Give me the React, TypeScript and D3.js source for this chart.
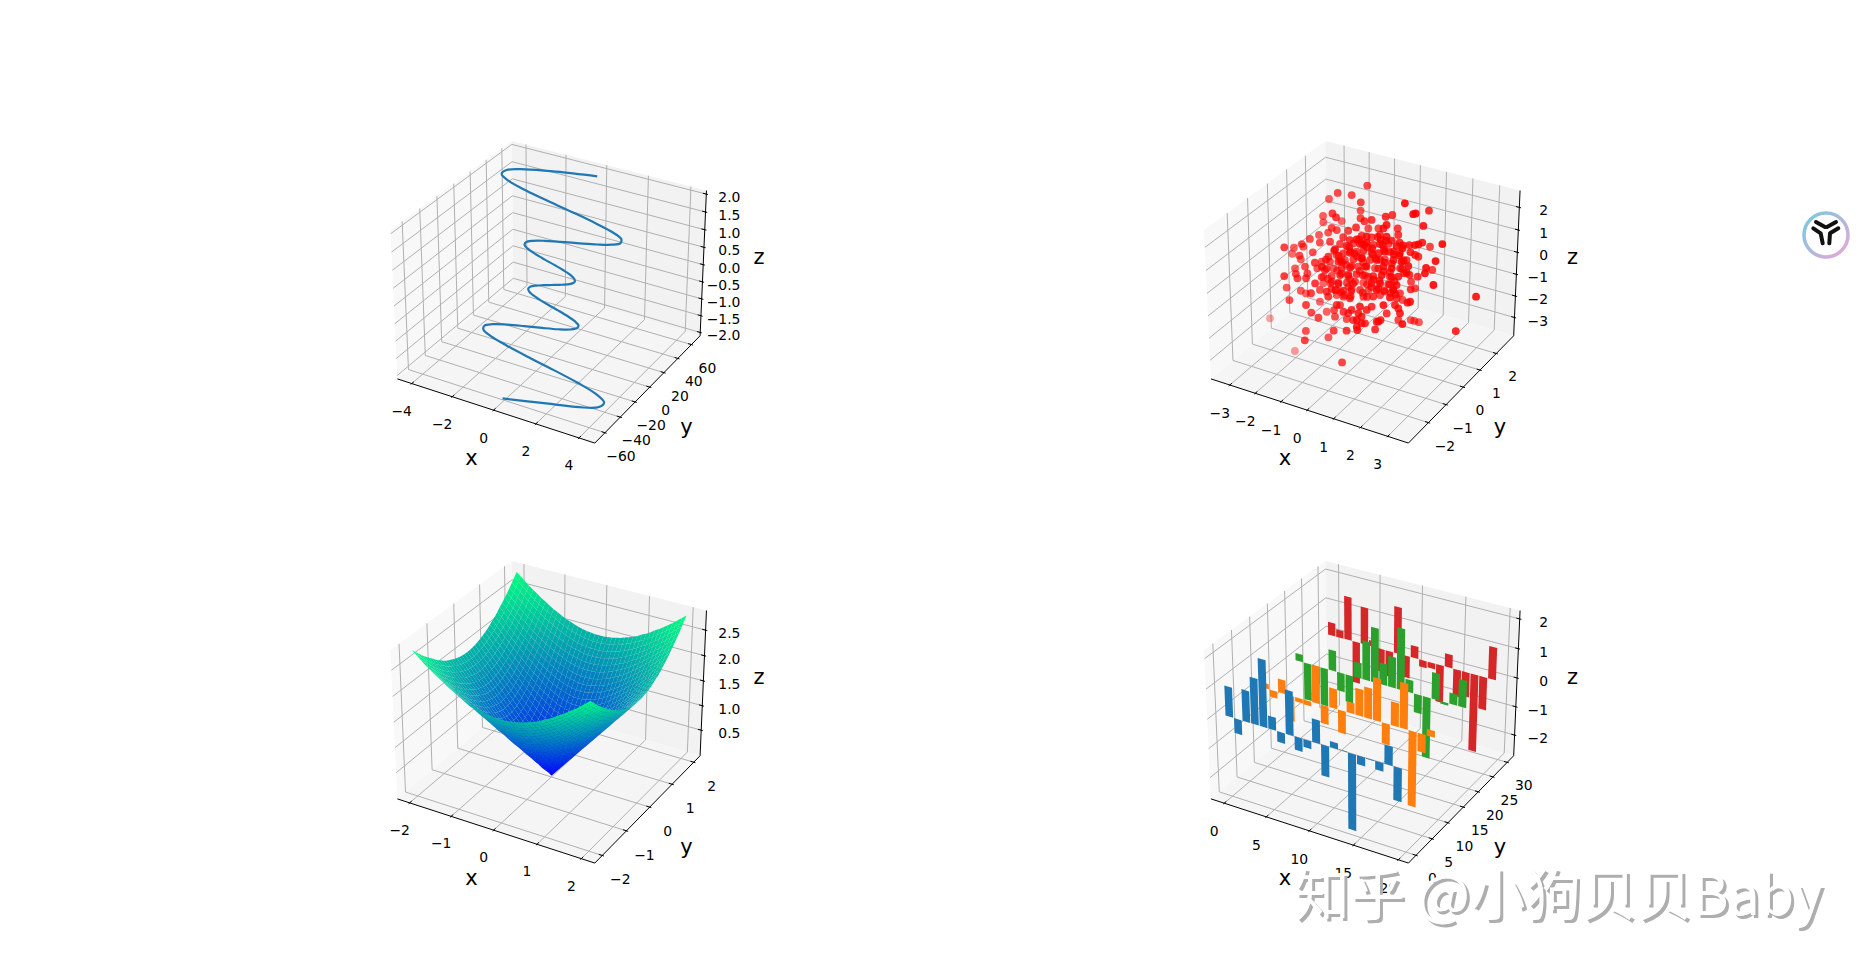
import React, { useRef, useEffect } from "react";
import * as d3 from "d3";

// helix
const lineX = [0,1.82,3.19,3.96,4.06,3.56,2.57,1.32,0,-1.17,-2.04,-2.52,-2.56,-2.23,-1.6,-0.82,0,0.72,1.25,1.53,1.56,1.36,0.98,0.5,0,-0.46,-0.81,-1.01,-1.06,-0.96,-0.72,-0.38,0,0.38,0.72,0.96,1.06,1.01,0.81,0.46,0,-0.5,-0.98,-1.36,-1.56,-1.53,-1.25,-0.72,0,0.82,1.6,2.23,2.56,2.52,2.04,1.17,0,-1.32,-2.57,-3.56,-4.06,-3.96,-3.19,-1.82,0];
const lineY = [-62,-55.3,-50.8,-46.6,-42.7,-39,-35.5,-32.3,-29.3,-26.4,-23.9,-21.4,-19.2,-17.2,-15.3,-13.6,-12,-10.6,-9.3,-8.1,-7,-6.1,-5.2,-4.4,-3.8,-3.1,-2.6,-2.1,-1.6,-1.2,-0.8,-0.4,0,0.4,0.8,1.2,1.6,2.1,2.6,3.1,3.8,4.4,5.2,6.1,7,8.1,9.3,10.6,12,13.6,15.3,17.2,19.2,21.4,23.9,26.4,29.3,32.3,35.5,39,42.7,46.6,50.8,55.3,60];
const lineZ = d3.range(65).map((k) => -2 + k / 16);

// scatter
const scatterX = [-0.89,-1.75,-1.21,-2.53,-0.72,1.67,1.77,-1.22,1.91,2.00,-2.48,-1.38,-1.17,-2.25,-2.62,-0.80,-0.37,-0.10,0.50,0.41,2.09,0.94,0.69,0.55,-1.99,-1.63,-1.58,-0.92,-0.48,-0.78,
  -0.32,-2.27,-2.43,0.84,-2.52,-3.14,-2.67,-2.69,-1.88,-1.41,-2.09,-3.52,-2.24,-2.95,1.52,1.99,2.05,1.93,1.45,3.04,1.74,1.60,3.00,2.60,1.87,2.69,1.78,3.13,4.23,3.66,
  -2.16,-2.88,-2.24,-2.03,-2.18,-1.94,-1.92,-2.85,-2.21,-2.44,-2.61,-1.36,-2.13,-1.41,-1.51,-1.16,-1.79,-0.84,-5.38,-1.66,-1.18,-4.03,-0.04,-1.22,-0.50,0.14,0.69,0.56,1.08,1.35,
  1.07,1.14,2.29,0.89,1.22,1.27,1.67,2.30,2.01,1.66,1.21,1.30,0.83,1.17,2.00,1.61,1.59,0.74,0.71,0.76,0.59,0.11,-0.22,-0.19,-0.59,-0.88,0.19,0.81,0.64,0.67,
  0.72,-0.75,-0.57,0.79,-0.34,0.41,-0.30,0.25,-0.97,-0.43,0.22,1.08,0.93,-0.49,-1.17,-0.34,-1.01,-0.19,0.62,-0.03,0.70,0.20,1.45,1.87,-1.89,-1.04,-1.67,-0.83,0,-0.67,
  0.08,-0.44,0.78,1.43,0.86,1.64,1.03,-1.49,-0.93,-1.57,-0.66,-1.34,-0.44,0.43,-0.16,0.58,0.07,1.34,2.04,2.02,-2.07,-1.18,-1.80,-0.90,0,-0.61,0.20,-0.31,0.97,1.68,
  1.12,1.90,-1.12,-2.20,-1.29,-0.38,-1.00,-0.18,-0.70,0.59,1.32,0.74,1.59,-2.21,-1.33,-0.45,-1.06,-0.24,-0.76,0.53,1.26,0.68,1.53,-1.53,-0.75,-1.31,-0.41,-0.94,-0.12,-0.36,
  1.20,0.69,1.55,1.06,-0.77,-1.46,-0.69,0.06,-0.20,0.73,0.37,1.76,1.14,
  -1.11,-0.67,-0.42,-0.16,0.09,0.34,0.59,0.85,1.16,1.42,-1.43,-1.08,-0.80,-0.54,-0.29,-0.04,0.22,0.53,0.78,1.08,1.35,1.63,
  -1.33,-1.03,-0.73,-0.44,-0.14,0.15,0.44,0.75,1.08,1.38,-1.53,-1.22,-0.90,-0.57,-0.27,0.06,0.37,0.70,1.00,1.33,1.61,
  -1.58,-1.28,-0.95,-0.65,-0.32,-0.01,0.32,0.62,0.95,1.25,1.54,-1.30,-1.03,-0.70,-0.39,-0.06,0.24,0.57,0.87,1.20,
  -1.08,-0.80,-0.48,-0.16,0.22,0.59,0.97,1.23,-0.29,0.03,0.34,0.59,0.85];
const scatterY = [1.4,1,1,1.6,0.8,-0.3,0.9,1.5,-0.2,-0.2,1.2,0.2,0.1,1.9,1.4,0.9,0.5,0.5,0.4,0.9,0.1,-0.2,0,1,0.8,0.5,0.7,0.4,0.2,1.3,
  1.2,0.2,0.9,0.6,-0.8,0.5,0.3,0.4,0.2,0.1,0.1,0.9,-0.4,0.6,0.2,-0.2,-0.1,0.3,1.5,-0.3,0.2,0.6,-0.6,-0.5,1,-0.7,0.3,-0.9,-0.2,-0.4,
  -1.3,0.2,-0.6,-0.8,-0.2,-0.4,-0.5,-0.3,-1,-0.1,0.4,-1,0.5,-1.2,-0.8,-0.9,0.4,-0.5,2,-0.9,-1.6,1.6,-1.2,-0.3,-1,-1.2,-1.4,-0.8,-1,-1.1,
  -0.9,0.2,-1.3,1.3,1,1.2,-0.6,-0.9,-0.6,0.1,0.8,0.9,0.9,-0.5,-1,-0.7,-1.3,-1.5,-1.2,-1,-1.2,-0.8,-0.6,-0.9,-0.7,-0.4,-1,-1.6,-1.1,-0.6,
  -1.3,-0.3,-0.2,-0.4,0.3,-0.5,0.8,-0.8,0.2,-0.2,0.5,-0.4,0.1,-0.9,0.3,-0.5,0.8,0,-0.8,0.5,-0.2,1,-0.4,-0.7,0.3,-0.5,0.8,0,-0.8,0.5,
  -0.2,1,-0.4,-1,0.3,-0.5,0.8,-0.6,-1,0.3,-0.5,0.8,0,-0.8,0.5,-0.2,1,-0.4,-1,-0.6,0.3,-0.5,0.8,0,-0.8,0.5,-0.2,1,-0.4,-1,
  0.3,-0.5,-1.1,0.8,0,-0.8,0.5,-0.2,1,-0.4,-1,0.3,-0.5,0.8,0,-0.8,0.5,-0.2,1,-0.4,-1,0.3,-0.5,-0.3,-1,0.2,-0.6,0.6,-0.1,0.7,
  -1.1,0.1,-0.7,0.4,-0.9,0.5,-0.2,-0.9,0.2,-0.6,0.3,-1.2,0.1,
  -0.1,0.1,-0.2,0.2,0,-0.1,0.1,-0.2,0.2,0,-0.1,0.1,-0.2,0.2,0,-0.1,0.1,-0.2,0.2,0,-0.1,0.1,
  -0.2,0.2,0,-0.1,0.1,-0.2,0.2,0,-0.1,0.1,-0.2,0.2,0,-0.1,0.1,-0.2,0.2,0,-0.1,0.1,-0.2,
  0.2,0,-0.1,0.1,-0.2,0.2,0,-0.1,0.1,-0.2,0.2,0,-0.1,0.1,-0.2,0.2,0,-0.1,0.1,-0.2,
  0.2,0,-0.1,0.1,-0.2,0.2,0,-0.1,0.1,-0.2,0.2,0,-0.1];
const scatterZ = [2.63,2.30,2.37,1.41,2.33,3.73,2.67,1.36,3.28,3.34,0.92,2.03,1.99,0.30,0.46,1.54,1.81,1.95,2.34,2.06,2.64,2.52,2.16,1.45,0.59,1.12,0.90,1.28,1.70,0.83,
  1.04,0.62,0.28,1.52,0.84,-0.26,0.19,0,0.58,0.84,0.14,-0.94,0.29,-0.80,1.57,1.99,1.97,1.74,0.59,2.44,1.21,0.81,1.91,1.42,0.04,1.35,0.20,1.14,0.51,-1.05,
  0.03,-0.91,-0.39,-0.38,-0.32,-0.41,-0.55,-1.43,-1.28,-1.58,-2.12,-0.68,-2.41,-1.08,-1.75,-1.79,-2.69,-1.62,-5.44,-2.57,-2.30,-6.28,-3.20,-3.16,-2.07,-1.69,-1.32,-1.51,-1.45,-0.86,
  -1.18,-1.89,-0.56,-2.80,-2.50,-2.69,-0.60,0.13,-0.23,-0.26,-0.57,-0.91,-1.60,-1.07,-0.41,-0.40,0.03,-0.78,-0.86,-0.69,-0.76,-1.52,-1.48,-1.18,-1.16,-2.01,-0.89,-0.98,-1.26,-0.87,
  -0.34,-1.51,-2.16,-1.65,1.30,2.05,0.92,2.08,1.11,1.43,1.39,2.19,1.64,1.48,0.68,1.40,0.42,1.20,2.06,0.87,1.62,0.65,1.91,2.15,-0.35,0.70,-0.32,0.58,1.42,0.36,
  1.13,0.05,1.38,2.07,1.00,1.73,0.34,0.36,0.64,-0.24,0.61,-0.44,0.44,1.32,0.16,0.88,-0.08,1.27,1.84,1.37,-0.71,0.07,-0.97,-0.11,0.78,-0.29,0.47,-0.61,0.86,1.44,
  0.35,0.98,-0.09,-1.49,-0.59,0.32,-0.84,0.01,-1.05,0.32,1.03,-0.15,0.70,-1.80,-0.93,-0.10,-1.17,-0.35,-1.42,-0.02,0.65,-0.50,0.31,-1.09,-0.40,-1.37,-0.52,-1.50,-0.75,-1.44,
  0.41,-0.69,0.21,-0.86,-0.70,-1.87,-1.18,-0.49,-1.30,-0.40,-1.10,0.35,-0.84,
  0.67,0.84,0.94,1.04,1.14,1.24,1.34,1.44,1.56,1.66,0.17,0.31,0.42,0.52,0.61,0.71,0.81,0.93,1.03,1.15,1.26,1.36,
  -0.13,-0.01,0.11,0.22,0.34,0.45,0.57,0.69,0.82,0.93,-0.58,-0.46,-0.34,-0.21,-0.09,0.04,0.16,0.29,0.41,0.53,0.64,
  -0.95,-0.83,-0.70,-0.59,-0.46,-0.34,-0.21,-0.09,0.04,0.16,0.27,-1.18,-1.07,-0.94,-0.82,-0.69,-0.57,-0.44,-0.32,-0.20,
  -1.39,-1.28,-1.16,-1.03,-0.88,-0.74,-0.59,-0.49,1.30,1.42,1.54,1.64,1.74];

// cone, one quadrant at 0.1 steps
const coneAxis = d3.range(-20, 21).map((v) => v / 10);
const coneQuadrant = [
  [0,.1,.2,.3,.4,.5,.6,.7,.8,.9,1,1.1,1.2,1.3,1.4,1.5,1.6,1.7,1.8,1.9,2],
  [.1,.14,.22,.32,.41,.51,.61,.71,.81,.91,1,1.1,1.2,1.3,1.4,1.5,1.6,1.7,1.8,1.9,2],
  [.2,.22,.28,.36,.45,.54,.63,.73,.82,.92,1.02,1.12,1.22,1.32,1.41,1.51,1.61,1.71,1.81,1.91,2.01],
  [.3,.32,.36,.42,.5,.58,.67,.76,.85,.95,1.04,1.14,1.24,1.34,1.43,1.53,1.63,1.73,1.82,1.92,2.02],
  [.4,.41,.45,.5,.57,.64,.72,.81,.89,.98,1.08,1.17,1.26,1.36,1.46,1.55,1.65,1.75,1.84,1.94,2.04],
  [.5,.51,.54,.58,.64,.71,.78,.86,.94,1.03,1.12,1.21,1.3,1.39,1.49,1.58,1.68,1.77,1.87,1.96,2.06],
  [.6,.61,.63,.67,.72,.78,.85,.92,1,1.08,1.17,1.25,1.34,1.43,1.52,1.62,1.71,1.8,1.9,1.99,2.09],
  [.7,.71,.73,.76,.81,.86,.92,.99,1.06,1.14,1.22,1.3,1.39,1.48,1.57,1.66,1.75,1.84,1.93,2.03,2.12],
  [.8,.81,.82,.85,.89,.94,1,1.06,1.13,1.2,1.28,1.36,1.44,1.53,1.61,1.7,1.79,1.88,1.97,2.06,2.15],
  [.9,.91,.92,.95,.98,1.03,1.08,1.14,1.2,1.27,1.35,1.42,1.5,1.58,1.66,1.75,1.84,1.92,2.01,2.1,2.19],
  [1,1,1.02,1.04,1.08,1.12,1.17,1.22,1.28,1.35,1.41,1.49,1.56,1.64,1.72,1.8,1.89,1.97,2.06,2.15,2.24],
  [1.1,1.1,1.12,1.14,1.17,1.21,1.25,1.3,1.36,1.42,1.49,1.56,1.63,1.7,1.78,1.86,1.94,2.02,2.11,2.2,2.28],
  [1.2,1.2,1.22,1.24,1.26,1.3,1.34,1.39,1.44,1.5,1.56,1.63,1.7,1.77,1.84,1.92,2,2.08,2.16,2.25,2.33],
  [1.3,1.3,1.32,1.34,1.36,1.39,1.43,1.48,1.53,1.58,1.64,1.7,1.77,1.84,1.91,1.98,2.06,2.14,2.22,2.3,2.39],
  [1.4,1.4,1.41,1.43,1.46,1.49,1.52,1.57,1.61,1.66,1.72,1.78,1.84,1.91,1.98,2.05,2.13,2.21,2.28,2.36,2.44],
  [1.5,1.5,1.51,1.53,1.55,1.58,1.62,1.66,1.7,1.75,1.8,1.86,1.92,1.98,2.05,2.12,2.19,2.27,2.34,2.42,2.5],
  [1.6,1.6,1.61,1.63,1.65,1.68,1.71,1.75,1.79,1.84,1.89,1.94,2,2.06,2.13,2.19,2.26,2.33,2.41,2.48,2.56],
  [1.7,1.7,1.71,1.73,1.75,1.77,1.8,1.84,1.88,1.92,1.97,2.02,2.08,2.14,2.2,2.27,2.33,2.4,2.48,2.55,2.62],
  [1.8,1.8,1.81,1.82,1.84,1.87,1.9,1.93,1.97,2.01,2.06,2.11,2.16,2.22,2.28,2.34,2.41,2.48,2.55,2.62,2.69],
  [1.9,1.9,1.91,1.92,1.94,1.96,1.99,2.03,2.06,2.1,2.15,2.2,2.25,2.3,2.36,2.42,2.48,2.55,2.62,2.69,2.76],
  [2,2,2.01,2.02,2.04,2.06,2.09,2.12,2.15,2.19,2.24,2.28,2.33,2.39,2.44,2.5,2.56,2.62,2.69,2.76,2.83],
];

// bars, one list per y plane
const barPlanes = [30, 20, 10, 0];
const barColors = ["#d62728", "#2ca02c", "#ff7f0e", "#1f77b4"];
const barIndex = d3.range(20);
const barsRed = [0.45,0.26,1.5,-1.45,1.28,0.2,-0.8,-0.9,1.6,-0.76,0.42,-0.24,-0.2,-1.3,0.45,-0.93,-0.85,-2.7,-1.13,1.1];
const barsGreen = [0.25,-1.28,-0.6,-1.3,0.7,-0.63,-0.94,0.52,1.32,1.85,0.73,1.04,2.07,0.42,-0.63,-2.09,0.9,-0.08,0.37,0.92];
const barsOrange = [0.17,-0.24,0.46,-0.86,-0.15,-0.16,1.26,-0.62,0.66,-0.77,0.36,0.9,1.02,1.42,-0.7,0.79,1.51,-2.56,-0.61,0.22];
const barsBlue = [1,-0.5,1.05,1.54,2.23,0.43,-0.35,1.46,-0.44,-0.26,0.77,-1.03,0.2,0.02,-2.57,-0.29,-0.03,-0.28,0.62,-1.11];

const ELEV = (30 * Math.PI) / 180;
const AZIM = (-60 * Math.PI) / 180;
const DIST = 10;
const SCALE = 1980;
const ASPECT = [1.1429, 1.1429, 0.8571];
const W = [Math.cos(ELEV) * Math.cos(AZIM), Math.cos(ELEV) * Math.sin(AZIM), Math.sin(ELEV)];
const U = [-Math.sin(AZIM), Math.cos(AZIM), 0];
const V = [W[1] * U[2] - W[2] * U[1], W[2] * U[0] - W[0] * U[2], W[0] * U[1] - W[1] * U[0]];
const dot = (a: number[], b: number[]) => a[0] * b[0] + a[1] * b[1] + a[2] * b[2];

function makeAxes(g: any, o: any) {
  const sx = d3.scaleLinear().domain(o.xDomain).range([0, 1]);
  const sy = d3.scaleLinear().domain(o.yDomain).range([0, 1]);
  const sz = d3.scaleLinear().domain(o.zDomain).range([0, 1]);
  // fractions of the box to pixels, third value is distance from the eye
  const cube = (fx: number, fy: number, fz: number) => {
    const p = [(fx - 0.5) * ASPECT[0], (fy - 0.5) * ASPECT[1], (fz - 0.5) * ASPECT[2]];
    const d = DIST - dot(W, p);
    return [o.cx + (SCALE * dot(U, p)) / d, o.cy - (SCALE * dot(V, p)) / d, d];
  };
  const proj = (x: number, y: number, z: number) => cube(sx(x), sy(y), sz(z));
  const path = d3.line();
  const poly = (pts: number[][]) => path(pts.map((p) => [p[0], p[1]] as [number, number])) + "Z";

  const panes = [
    { c: "#f8f8f8", pts: [[0, 0, 0], [0, 1, 0], [0, 1, 1], [0, 0, 1]] },
    { c: "#f2f2f2", pts: [[0, 1, 0], [1, 1, 0], [1, 1, 1], [0, 1, 1]] },
    { c: "#f5f5f5", pts: [[0, 0, 0], [1, 0, 0], [1, 1, 0], [0, 1, 0]] },
  ];
  panes.forEach((pn) => {
    g.append("path").attr("d", poly(pn.pts.map((p) => cube(p[0], p[1], p[2])))).attr("fill", pn.c);
  });

  const grid = (pts: number[][]) =>
    g.append("path")
      .attr("d", path(pts.map((p) => { const q = cube(p[0], p[1], p[2]); return [q[0], q[1]] as [number, number]; })))
      .attr("fill", "none").attr("stroke", "#b0b0b0").attr("stroke-width", 1);
  o.xTicks.forEach((t: number) => { const f = sx(t); grid([[f, 0, 0], [f, 1, 0], [f, 1, 1]]); });
  o.yTicks.forEach((t: number) => { const f = sy(t); grid([[1, f, 0], [0, f, 0], [0, f, 1]]); });
  o.zTicks.forEach((t: number) => { const f = sz(t); grid([[0, 0, f], [0, 1, f], [1, 1, f]]); });

  const black = (a: number[], b: number[], w = 1) => {
    const p = cube(a[0], a[1], a[2]);
    const q = cube(b[0], b[1], b[2]);
    g.append("line").attr("x1", p[0]).attr("y1", p[1]).attr("x2", q[0]).attr("y2", q[1])
      .attr("stroke", "black").attr("stroke-width", w);
  };
  black([0, 0, 0], [1, 0, 0]);
  black([1, 0, 0], [1, 1, 0]);
  black([1, 1, 0], [1, 1, 1]);

  const text = (s: string, x: number, y: number, size: number, anchor = "middle") =>
    g.append("text").attr("x", x).attr("y", y).attr("font-size", size).attr("text-anchor", anchor)
      .attr("dominant-baseline", "central").attr("font-family", "DejaVu Sans").attr("fill", "black").text(s);

  o.xTicks.forEach((t: number) => {
    const f = sx(t);
    black([f, 0.0167, 0], [f, -0.0083, 0]);
    const p = cube(f, 0, 0);
    text(o.xFormat(t), p[0] + o.xOff[0], p[1] + o.xOff[1], 13.9);
  });
  o.yTicks.forEach((t: number) => {
    const f = sy(t);
    black([1 - 0.0167, f, 0], [1 + 0.0083, f, 0]);
    const p = cube(1, f, 0);
    text(o.yFormat(t), p[0] + o.yOff[0], p[1] + o.yOff[1], 13.9);
  });
  o.zTicks.forEach((t: number) => {
    const f = sz(t);
    black([1 - 0.0167, 1, f], [1 + 0.0083, 1, f]);
    const p = cube(1, 1, f);
    text(o.zFormat(t), o.cx + o.zRight, p[1] + 3, 13.9, "end");
  });
  text("x", o.cx - 80, o.cy + 173, 21);
  text("y", o.cx + 135, o.cy + 142, 21);
  text("z", o.cx + 207.6, o.cy - 28, 21);

  o.draw(g.append("g"), proj, poly);
}

export default function App() {
  const svgRef = useRef(null);

  useEffect(() => {
    const svg = d3.select(svgRef.current);
    svg.selectAll("*").remove();
    const num = d3.format("d");
    const one = d3.format(".1f");

    makeAxes(svg.append("g"), {
      cx: 551.4, cy: 285,
      xDomain: [-4.72, 4.72], yDomain: [-73, 73], zDomain: [-2.1, 2.1],
      xTicks: [-4, -2, 0, 2, 4], yTicks: [-60, -40, -20, 0, 20, 40, 60], zTicks: d3.range(-2, 2.5, 0.5),
      xFormat: num, yFormat: num, zFormat: one,
      xOff: [-10, 27.5], yOff: [16, 23], zRight: 189,
      draw: (g: any, proj: any) => {
        const pts = lineX.map((x, i) => proj(x, lineY[i], lineZ[i]) as [number, number]);
        g.append("path").attr("d", d3.line().curve(d3.curveCatmullRom)(pts))
          .attr("fill", "none").attr("stroke", "#1f77b4").attr("stroke-width", 2.2);
      },
    });

    makeAxes(svg.append("g"), {
      cx: 1365, cy: 285,
      xDomain: [-3.75, 3.75], yDomain: [-3.1, 3.1], zDomain: [-3.86, 2.74],
      xTicks: [-3, -2, -1, 0, 1, 2, 3], yTicks: [-2, -1, 0, 1, 2], zTicks: [-3, -2, -1, 0, 1, 2],
      xFormat: num, yFormat: num, zFormat: num,
      xOff: [-10, 28], yOff: [16.5, 23], zRight: 183,
      draw: (g: any, proj: any) => {
        const pts = scatterX.map((x, i) => proj(x, scatterY[i], scatterZ[i]));
        pts.sort((a, b) => b[2] - a[2]);
        const alpha = d3.scaleLinear().domain(d3.extent(pts, (p: number[]) => p[2]) as [number, number]).range([0.9, 0.35]);
        g.selectAll("circle").data(pts).join("circle")
          .attr("cx", (d: number[]) => d[0]).attr("cy", (d: number[]) => d[1]).attr("r", 3.9)
          .attr("fill", "red").attr("fill-opacity", (d: number[]) => alpha(d[2]));
      },
    });

    makeAxes(svg.append("g"), {
      cx: 551.4, cy: 705,
      xDomain: [-2.3, 2.3], yDomain: [-2.3, 2.3], zDomain: [-0.03, 2.88],
      xTicks: [-2, -1, 0, 1, 2], yTicks: [-2, -1, 0, 1, 2], zTicks: [0.5, 1, 1.5, 2, 2.5],
      xFormat: num, yFormat: num, zFormat: one,
      xOff: [-10, 27], yOff: [18, 24], zRight: 189,
      draw: (g: any, proj: any, poly: any) => {
        const n = coneAxis.length - 1;
        const height = (i: number, j: number) => coneQuadrant[Math.abs(j - 20)][Math.abs(i - 20)];
        const color = d3.scaleLinear<string>().domain([0, 2.83]).range(["#0000ff", "#00ff80"]);
        const cells: any[] = [];
        d3.range(n).forEach((i) => d3.range(n).forEach((j) => {
          const corners = [[i, j], [i + 1, j], [i + 1, j + 1], [i, j + 1]];
          const pts = corners.map((c) => proj(coneAxis[c[0]], coneAxis[c[1]], height(c[0], c[1])));
          cells.push({
            pts,
            depth: d3.mean(pts, (p: number[]) => p[2]),
            z: d3.mean(corners, (c) => height(c[0], c[1])),
          });
        }));
        cells.sort((a, b) => b.depth - a.depth);
        g.selectAll("path").data(cells).join("path")
          .attr("d", (d: any) => poly(d.pts)).attr("fill", (d: any) => color(d.z));
      },
    });

    makeAxes(svg.append("g"), {
      cx: 1365, cy: 705,
      xDomain: [-1.6, 21.1], yDomain: [-2.3, 32.3], zDomain: [-2.74, 2.28],
      xTicks: [0, 5, 10, 15, 20], yTicks: [0, 5, 10, 15, 20, 25, 30], zTicks: [-2, -1, 0, 1, 2],
      xFormat: num, yFormat: num, zFormat: num,
      xOff: [-10, 28], yOff: [16.5, 23], zRight: 183,
      draw: (g: any, proj: any, poly: any) => {
        [barsRed, barsGreen, barsOrange, barsBlue].forEach((vals, k) => {
          barIndex.forEach((i) => {
            const y = barPlanes[k];
            const pts = [
              proj(i - 0.45, y, 0), proj(i + 0.45, y, 0),
              proj(i + 0.45, y, vals[i]), proj(i - 0.45, y, vals[i]),
            ];
            g.append("path").attr("d", poly(pts)).attr("fill", barColors[k]);
          });
        });
      },
    });

    // watermark
    const mark = svg.append("g").attr("font-family", "Noto Sans CJK SC").attr("font-size", 55.5);
    mark.append("text").attr("x", 1297).attr("y", 918).attr("fill", "#aeaeae").text("知乎 @小狗贝贝Baby");
    mark.append("text").attr("x", 1294).attr("y", 915).attr("fill", "white").text("知乎 @小狗贝贝Baby");

    // badge
    const badge = svg.append("g").attr("transform", "translate(1826,235)");
    const defs = svg.append("defs");
    const grad = defs.append("linearGradient").attr("id", "ring").attr("x1", 0).attr("y1", 0).attr("x2", 1).attr("y2", 1);
    grad.append("stop").attr("offset", "0%").attr("stop-color", "#72cbe0");
    grad.append("stop").attr("offset", "100%").attr("stop-color", "#eaa6d8");
    badge.append("circle").attr("r", 22).attr("fill", "white").attr("stroke", "url(#ring)").attr("stroke-width", 3.5);
    const glyphs = [
      [[-10, -13], [-1, -8]],
      [[10, -13], [1, -8]],
      [[-12.7, -6.7], [-5.3, -1.7], [-3.3, 8.3]],
      [[12.3, -6.7], [4, -1.7], [3.3, 8.3]],
    ];
    glyphs.forEach((pts) => {
      badge.append("path").attr("d", d3.line()(pts as [number, number][]))
        .attr("fill", "none").attr("stroke", "#111").attr("stroke-width", 4)
        .attr("stroke-linecap", "round").attr("stroke-linejoin", "round");
    });
  }, []);

  return <svg ref={svgRef} width={1871} height={979} style={{ position: "absolute", left: 0, top: 0, background: "white" }} />;
}
